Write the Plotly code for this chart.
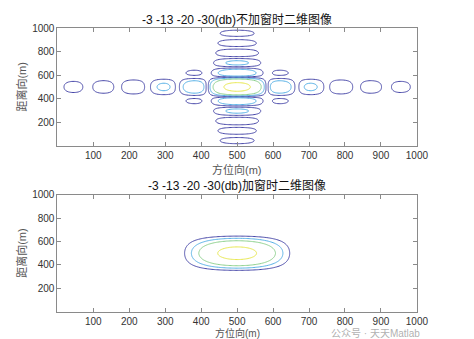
import numpy as np
import plotly.graph_objects as go

# ---- chart data ----
levels_db = [-30, -20, -13, -3]                      # contour levels (dB)
level_colors = ["#4646a8", "#55b0e6", "#8cd08c", "#e8e84c"]
center_azimuth = 500                                 # m
center_range = 500                                   # m
null_spacing_azimuth = 83                            # m (sinc null spacing)
null_spacing_range = 83                              # m
hamming_a = 0.54                                     # window coefficient
x_tick_vals = [100, 200, 300, 400, 500, 600, 700, 800, 900, 1000]
y_tick_vals = [200, 400, 600, 800, 1000]
title_top = "-3 -13 -20 -30(db)不加窗时二维图像"
title_bottom = "-3 -13 -20 -30(db)加窗时二维图像"
xlabel = "方位向(m)"
ylabel = "距离向(m)"

grid_x = np.linspace(0, 1000, 301)
grid_y = np.linspace(0, 1000, 301)


def response(u, windowed):
    if not windowed:
        return np.sinc(u)
    b = (1 - hamming_a) / 2
    return (hamming_a * np.sinc(u) + b * (np.sinc(u - 1) + np.sinc(u + 1))) / hamming_a


def field_db(windowed):
    hx = response((grid_x - center_azimuth) / null_spacing_azimuth, windowed)
    hy = response((grid_y - center_range) / null_spacing_range, windowed)
    amp = np.abs(hy[:, None] * hx[None, :])
    return np.maximum(20 * np.log10(amp + 1e-8), -80)


def level_index(db):
    lv = np.array(levels_db, dtype=float)
    idx = np.interp(db, lv, np.arange(len(lv)))
    lo = db < lv[0]
    idx[lo] = (db[lo] - lv[0]) / (lv[1] - lv[0])
    hi = db > lv[-1]
    idx[hi] = (len(lv) - 1) + (db[hi] - lv[-1]) / (lv[-1] - lv[-2])
    return np.round(idx, 3)


n = len(levels_db)
cscale = [[i / (n - 1), c] for i, c in enumerate(level_colors)]

fig = go.Figure()
for k, windowed in enumerate([False, True]):
    sfx = "" if k == 0 else "2"
    fig.add_trace(go.Contour(
        x=grid_x, y=grid_y, z=level_index(field_db(windowed)),
        zmin=0, zmax=n - 1, colorscale=cscale, showscale=False,
        contours=dict(start=0, end=n - 1, size=1, coloring="lines"),
        line=dict(width=1), hoverinfo="skip",
        xaxis="x" + sfx, yaxis="y" + sfx,
    ))

# page body has an 8px default margin: lay out in page pixels, offset by it
OFF = 8
W, H = 474 - OFF, 339 - OFF


def px(x):
    return (x - OFF) / W


def py(y):
    return 1 - (y - OFF) / H


axis_common = dict(
    range=[0, 1000], showgrid=False, zeroline=False, showline=True,
    mirror="ticks", linecolor="#8a8a8a", linewidth=1, ticks="inside",
    ticklen=4, tickcolor="#8a8a8a",
    tickfont=dict(family="Liberation Sans, Arial", size=10, color="#333333"),
)
top_dom = [py(142.3), py(22.3)]
bot_dom = [py(311.3), py(192)]
x_dom = [px(58.7), px(427.7)]

fig.update_layout(
    width=W, height=H, margin=dict(l=0, r=0, t=0, b=0),
    paper_bgcolor="white", plot_bgcolor="white", showlegend=False,
    xaxis=dict(axis_common, domain=x_dom, anchor="y", tickvals=x_tick_vals),
    yaxis=dict(axis_common, domain=top_dom, anchor="x", tickvals=y_tick_vals),
    xaxis2=dict(axis_common, domain=x_dom, anchor="y2", tickvals=x_tick_vals),
    yaxis2=dict(axis_common, domain=bot_dom, anchor="x2", tickvals=y_tick_vals),
)

cjk = "Liberation Sans, Noto Sans CJK SC"
xc = (x_dom[0] + x_dom[1]) / 2
ann = [
    dict(text=title_top, x=xc, y=py(14), size=12, color="#111111"),
    dict(text=title_bottom, x=xc, y=py(183), size=12, color="#111111"),
    dict(text=xlabel, x=xc, y=py(166), size=11, color="#555555"),
    dict(text=xlabel, x=xc, y=py(333), size=10, color="#555555"),
]
for a in ann:
    fig.add_annotation(text=a["text"], x=a["x"], y=a["y"], xref="paper", yref="paper",
                       showarrow=False, xanchor="center", yanchor="middle", borderpad=0,
                       font=dict(family=cjk, size=a["size"], color=a["color"]))
for yc in [(top_dom[0] + top_dom[1]) / 2, (bot_dom[0] + bot_dom[1]) / 2]:
    fig.add_annotation(text=ylabel, x=px(22), y=yc, xref="paper", yref="paper",
                       showarrow=False, textangle=-90, xanchor="center", yanchor="middle",
                       font=dict(family=cjk, size=11, color="#555555"))

# watermark
fig.add_annotation(text="公众号 · 天天Matlab", x=px(338), y=py(333), xref="paper", yref="paper",
                   showarrow=False, xanchor="left", yanchor="middle", borderpad=0,
                   font=dict(family=cjk, size=10, color="rgba(140,140,140,0.7)"))

fig.write_html("out.html")
